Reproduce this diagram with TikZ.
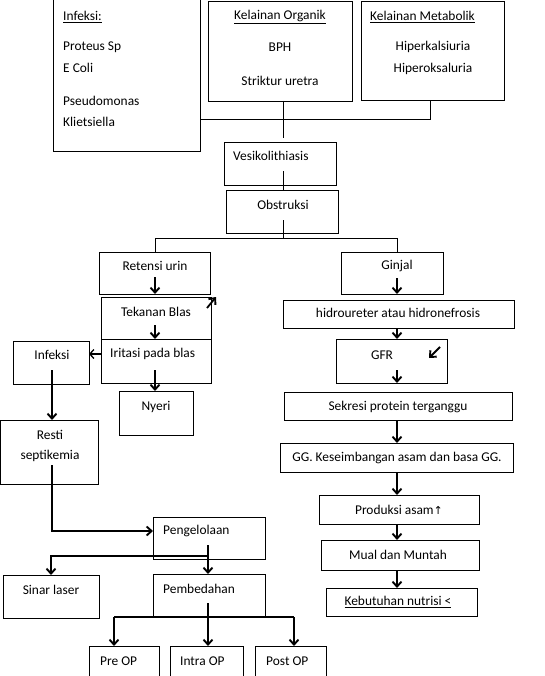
\documentclass[tikz,border=0pt]{standalone}
\usepackage{fontspec}
\setmainfont{Carlito}
\newfontfamily\djv{DejaVu Sans}
\usetikzlibrary{arrows.meta}
\newcommand\bx[5]{\node[box,minimum width={(#4-#2)*1bp},minimum height={(#5-#3)*1bp}] (#1) at ({(#2+#4)/2},{(#3+#5)/2}) {};}
\begin{document}
\begin{tikzpicture}[x=1bp,y=-1bp,
  box/.style={draw,line width=0.9bp,inner sep=0pt,outer sep=0pt},
  txt/.style={inner sep=0pt,font=\fontsize{13.4bp}{15bp}\selectfont},
  tl/.style={txt,anchor=west},
  thin/.style={line width=0.9bp},
  arr/.style={line width=1.8bp,-{Straight Barb[length=5bp,width=9bp,line width=1.9bp]}}]
\useasboundingbox (0,0) rectangle (545,676);
% boxes
\bx{inf1}{53}{-2}{200}{151}
\bx{org}{208}{1}{352}{101}
\bx{met}{361}{1}{504}{100}
\bx{ves}{224}{142}{336}{185}
\bx{obs}{226}{190}{338}{233}
\bx{ret}{99}{252}{210}{294}
\bx{tek}{101}{297}{211}{339}
\bx{iri}{101}{339}{211}{383}
\bx{infk}{13}{341}{89}{384}
\bx{nye}{119}{391}{193}{435}
\bx{res}{0.5}{420}{98}{484}
\bx{peng}{153}{517}{265}{559}
\bx{sin}{3}{575}{99}{618}
\bx{pemb}{153}{574}{265}{617}
\bx{pre}{89}{646}{159}{682}
\bx{intra}{170}{646}{243}{682}
\bx{post}{255}{646}{326}{682}
\bx{gin}{341}{252}{443}{294}
\bx{hid}{283}{300}{514}{328}
\bx{gfr}{336}{339}{447}{383}
\bx{sek}{284}{392}{512}{420}
\bx{gg}{280}{443}{513}{472}
\bx{prod}{319}{495}{479}{524}
\bx{mual}{321}{540}{479}{570}
\bx{keb}{326}{588}{477}{616}
% texts
\node[tl] (t1) at (63,17) {\underline{Infeksi:}};
\node[tl] (t2) at (63,47) {Proteus Sp};
\node[tl] (t3) at (63,68) {E Coli};
\node[tl] (t4) at (63,101) {Pseudomonas};
\node[tl] (t5) at (63,122) {Klietsiella};
\node[txt] (t6) at (280,17) {\underline{Kelainan Organik}};
\node[txt] (t7) at (280,47) {BPH};
\node[txt] (t8) at (280,81) {Striktur uretra};
\node[tl] (t9) at (370,17) {\underline{Kelainan Metabolik}};
\node[txt] (t10) at (433,47) {Hiperkalsiuria};
\node[txt] (t11) at (433,69) {Hiperoksaluria};
\node[tl] (t12) at (233,156) {Vesikolithiasis};
\node[txt] (t13) at (283,205) {Obstruksi};
\node[txt] (t14) at (155,266) {Retensi urin};
\node[txt] (t15) at (156,312) {Tekanan Blas};
\node[tl] (t16) at (110,354) {Iritasi pada blas};
\node[txt] (t17) at (52,355) {Infeksi};
\node[txt] (t18) at (156,407) {Nyeri};
\node[txt] (t19) at (50,435) {Resti};
\node[txt] (t20) at (50,456) {septikemia};
\node[tl] (t21) at (163,531) {Pengelolaan};
\node[txt] (t22) at (51,590) {Sinar laser};
\node[tl] (t23) at (163,589) {Pembedahan};
\node[tl] (t24) at (100,661) {Pre OP};
\node[tl] (t25) at (180,661) {Intra OP};
\node[tl] (t26) at (266,661) {Post OP};
\node[txt] (t27) at (397,266) {Ginjal};
\node[txt] (t28) at (398,313) {hidroureter atau hidronefrosis};
\node[txt] (t29) at (382,355) {GFR};
\node[txt] (t30) at (398,407) {Sekresi protein terganggu};
\node[txt] (t31) at (397,458) {GG. Keseimbangan asam dan basa GG.};
\node[txt] (t32) at (399,510) {Produksi asam{\djv\fontsize{11bp}{13bp}\selectfont ↑}};
\node[txt] (t33) at (398,555) {Mual dan Muntah};
\node[txt] (t34) at (398,602) {\underline{Kebutuhan nutrisi <}};
% helper coordinates
\coordinate (vx) at (283,0);
\coordinate (lx) at (155,0);
\coordinate (rx) at (397,0);
\coordinate (j1) at (283,119);
\coordinate (j2) at (283,238);
% thin connectors
\draw[thin] (inf1.east |- j1) -- (430,119) coordinate (m1) -- (m1 |- met.south);
\draw[thin] (org.south -| vx) -- (283,138) coordinate (v1);
\draw[thin] (283,171) coordinate (v2) -- (obs.north -| vx);
\draw[thin] (283,220) coordinate (v3) -- (j2);
\draw[thin] (ret.north -| lx) -- (lx |- j2) -- (rx |- j2) -- (gin.north -| rx);
% arrows left
\draw[arr] (155,277) coordinate (a1) -- (ret.south -| lx);
\draw[arr] (207,308) coordinate (a2) -- (216,297) coordinate (a3);
\draw[arr] (155,325) coordinate (a4) -- (tek.south -| lx);
\draw[thin,-{Straight Barb[length=4bp,width=9bp,line width=1.3bp]},line width=1.3bp] (iri.west |- t16) -- (infk.east |- t16);
\draw[arr] (155,370) coordinate (a5) -- (nye.north -| lx);
\draw[arr] (52,370) coordinate (a6) -- (res.north -| a6);
\draw[arr] (52,465) coordinate (a7) |- (peng.west |- 0,531);
\draw[arr] (208,545) coordinate (a8) -- (pemb.north -| a8);
\draw[arr] (208,556) coordinate (a9) -| (sin.north);
\draw[arr] (208,603) coordinate (a10) -- (intra.north -| a10);
\draw[line width=1.8bp] (114,617) coordinate (b1) -- (294,617) coordinate (b2);
\draw[arr] (b1) -- (pre.north -| b1);
\draw[arr] (b2) -- (post.north -| b2);
% arrows right
\draw[arr] (397,278) coordinate (c1) -- (gin.south -| rx);
\draw[arr] (hid.south -| rx) -- (gfr.north -| rx);
\draw[arr] (440,347) coordinate (c2) -- (429,358) coordinate (c3);
\draw[arr] (397,370) coordinate (c4) -- (gfr.south -| rx);
\draw[arr] (sek.south -| rx) -- (gg.north -| rx);
\draw[arr] (gg.south -| rx) -- (prod.north -| rx);
\draw[arr] (prod.south -| rx) -- (mual.north -| rx);
\draw[arr] (mual.south -| rx) -- (keb.north -| rx);
\end{tikzpicture}
\end{document}
